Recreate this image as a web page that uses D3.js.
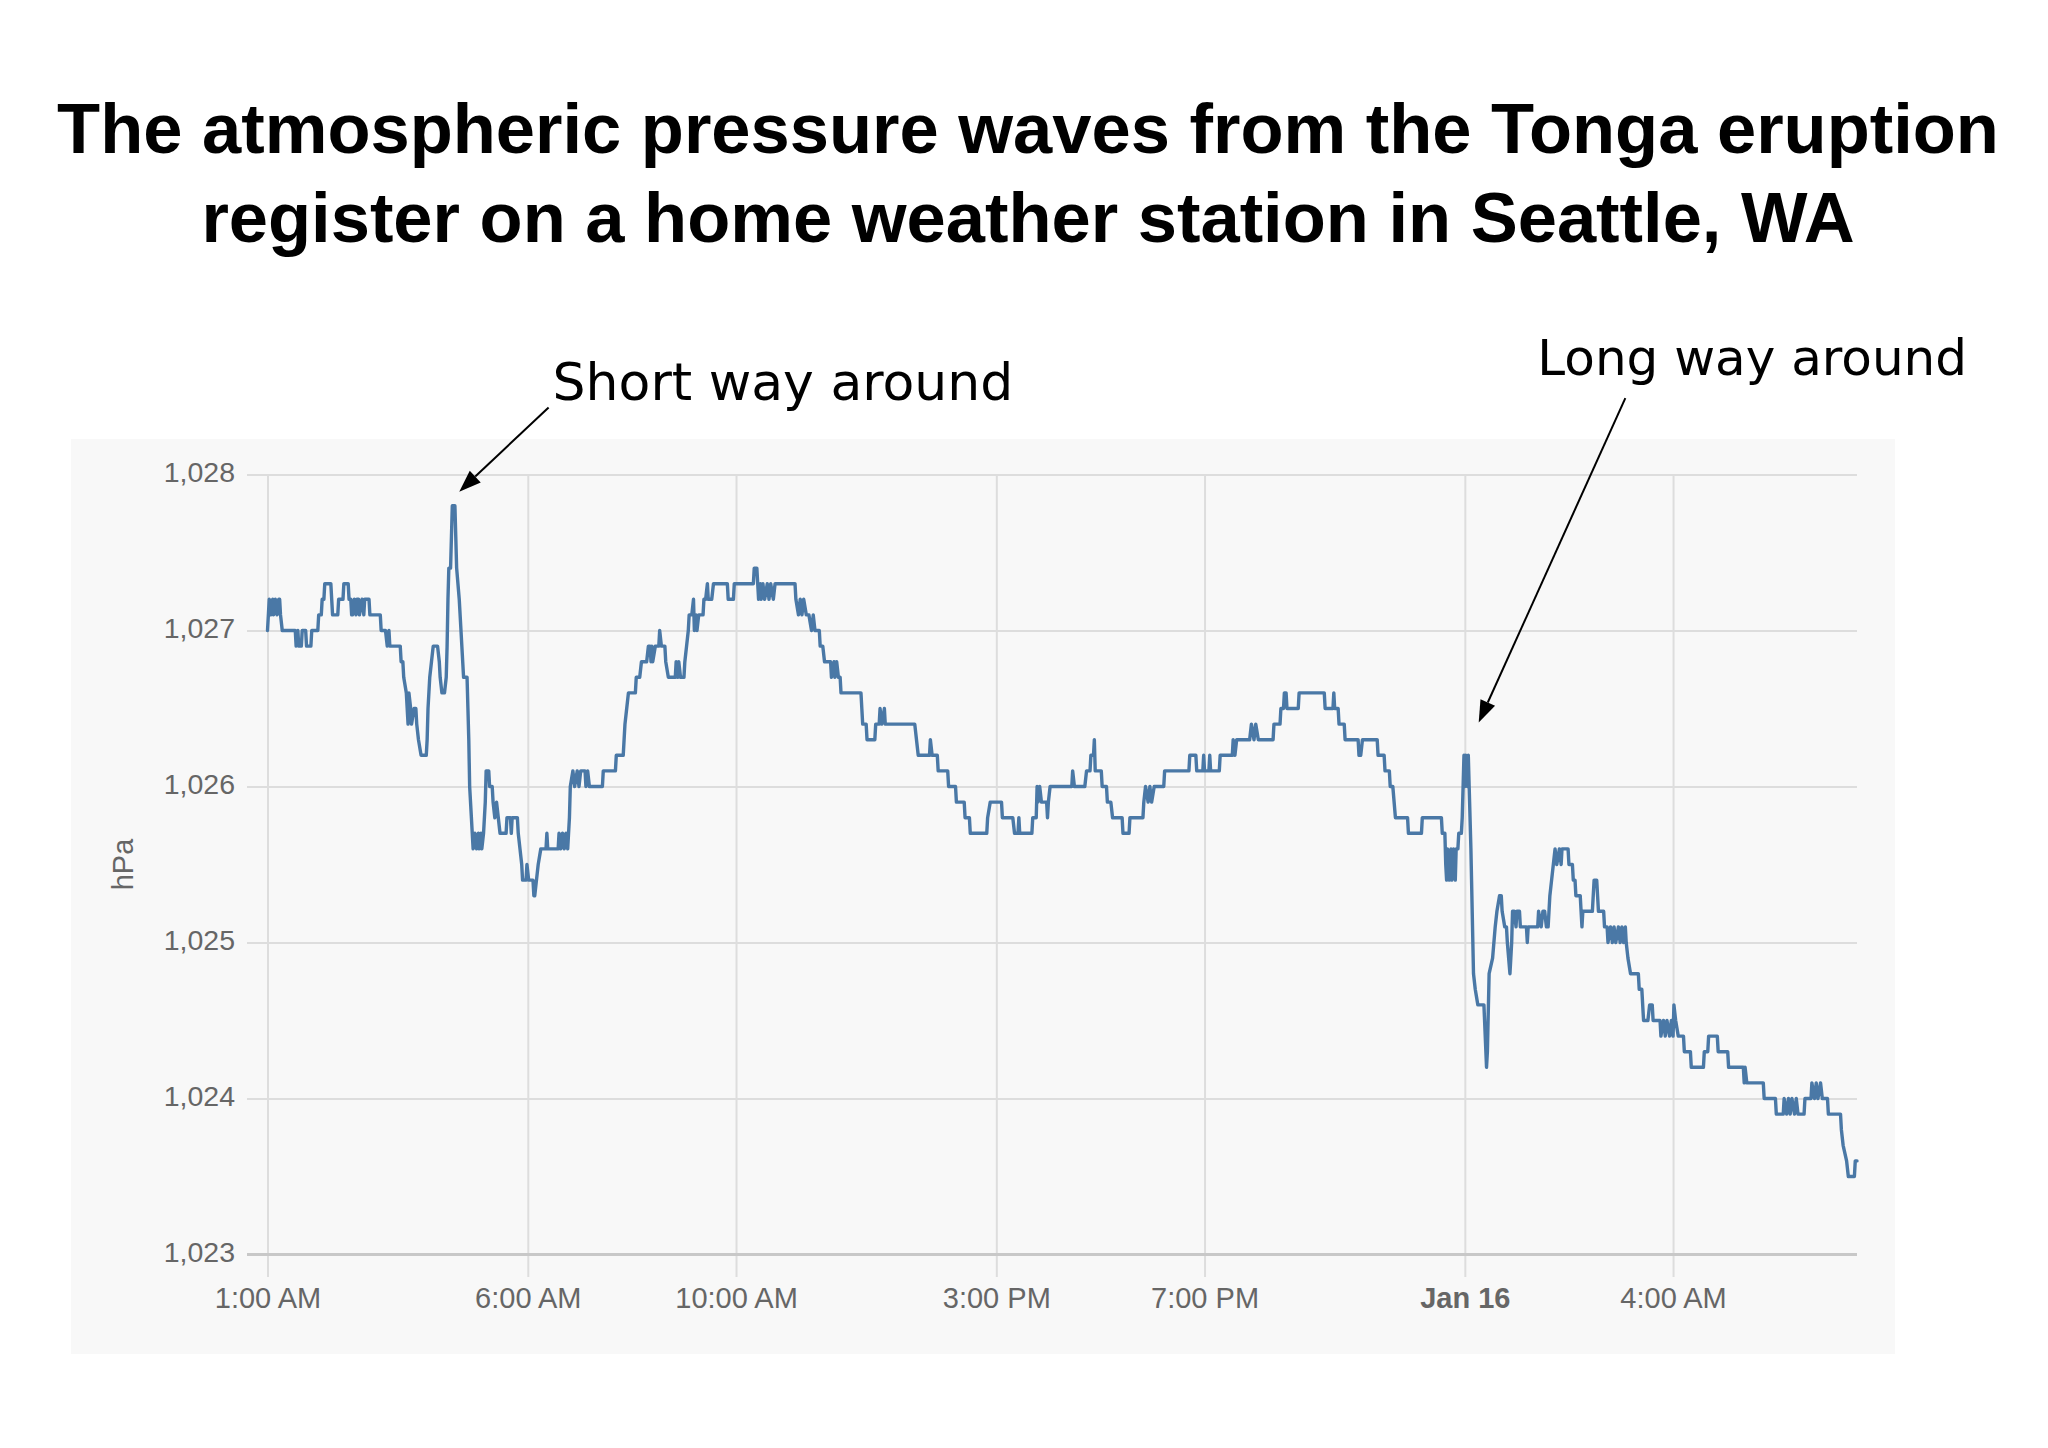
<!DOCTYPE html>
<html>
<head>
<meta charset="utf-8">
<script src="https://cdn.jsdelivr.net/npm/d3@7"></script>
<style>
  html, body { margin: 0; padding: 0; background: #fff; }
  svg { display: block; }
</style>
</head>
<body>
<svg id="chart" width="2048" height="1448"></svg>
<script>
// readings: [minutes after 1:00 AM Jan 15, pressure in hPa]
var earlyMorning = [
  [0,1027.0],[2,1027.2],[4,1027.1],[6,1027.2],[7,1027.1],[9,1027.2],[11,1027.1],[13,1027.2],[14,1027.2],
  [15,1027.1],[17,1027.0],[32,1027.0],[33,1026.9],[35,1027.0],[36,1026.9],[39,1026.9],[40,1027.0],
  [44,1027.0],[45,1026.9],[50,1026.9],[51,1027.0],[58,1027.0],[59,1027.1],[62,1027.1],[63,1027.2],
  [65,1027.2],[66,1027.3],[73,1027.3],[74,1027.2],[75,1027.1],[81,1027.1],[82,1027.2],[87,1027.2],
  [88,1027.3],[93,1027.3],[94,1027.2],[96,1027.2],[97,1027.1],[98,1027.1],[100,1027.2],[102,1027.1],
  [103,1027.2],[105,1027.2],[106,1027.1],[109,1027.2],[111,1027.1],[112,1027.2],[117,1027.2],
  [118,1027.1],[130,1027.1],[131,1027.0],[136,1027.0],[138,1026.9],[140,1027.0],[141,1026.9],
  [153,1026.9],[154,1026.8],[156,1026.8],[157,1026.7],[160,1026.6],[162,1026.4],[163,1026.6],
  [165,1026.5],[166,1026.4],[169,1026.5],[171,1026.5],[172,1026.4],[174,1026.3],[177,1026.2],
  [183,1026.2],[184,1026.3],[185,1026.5],[187,1026.7],[189,1026.8],[191,1026.9],[196,1026.9],
  [198,1026.8],[199,1026.7],[201,1026.6],[204,1026.6],[206,1026.7],[207,1026.9],[208,1027.2],
  [209,1027.4],[211,1027.4],[213,1027.8],[216,1027.8],[217,1027.6],[218,1027.4],[221,1027.2],
  [223,1027.0],[226,1026.7],[230,1026.7],[231,1026.5],[232,1026.3],[233,1026.0],[235,1025.8],
  [236,1025.7],[237,1025.6],[239,1025.7],[241,1025.6],[243,1025.7],[244,1025.6],[246,1025.7],
  [247,1025.6],[249,1025.7],[251,1025.9],[252,1026.1],[255,1026.1],[256,1026.0],[259,1026.0],
  [260,1025.9],[262,1025.8],[264,1025.9],[266,1025.8],[268,1025.7],[275,1025.7],[276,1025.8],
  [280,1025.8],[281,1025.7],[282,1025.8],[288,1025.8],[289,1025.7],[291,1025.6],[293,1025.5],
  [294,1025.4],[298,1025.4],[299,1025.5],[301,1025.4],[306,1025.4],[307,1025.3],[308,1025.3],
  [310,1025.4],[312,1025.5],[315,1025.6]
];

var lateMorning = [
  [321,1025.6],[322,1025.7],[323,1025.6],[335,1025.6],[336,1025.7],[338,1025.6],[340,1025.7],
  [342,1025.6],[344,1025.7],[346,1025.6],[348,1025.8],[349,1026.0],[352,1026.1],[354,1026.0],
  [357,1026.1],[359,1026.0],[361,1026.1],[366,1026.1],[367,1026.0],[369,1026.1],[371,1026.0],
  [386,1026.0],[387,1026.1],[401,1026.1],[402,1026.2],[410,1026.2],[411,1026.3],[412,1026.4],
  [414,1026.5],[416,1026.6],[424,1026.6],[425,1026.7],[429,1026.7],[431,1026.8],[437,1026.8],
  [439,1026.9],[441,1026.9],[442,1026.8],[443,1026.9],[444,1026.8],[447,1026.9],[451,1026.9],
  [452,1027.0],[454,1026.9],[458,1026.9],[459,1026.8],[462,1026.7],[470,1026.7],[471,1026.8],
  [473,1026.7],[474,1026.8],[476,1026.7],[480,1026.7],[481,1026.8],[483,1026.9],[485,1027.0],
  [486,1027.1],[489,1027.1],[491,1027.2],[492,1027.0],[494,1027.1],[495,1027.0],[497,1027.1],
  [502,1027.1],[503,1027.2],[505,1027.2],[507,1027.3],[508,1027.2],[512,1027.2],[514,1027.3],
  [530,1027.3],[531,1027.2],[537,1027.2],[538,1027.3],[560,1027.3],[561,1027.4],[564,1027.4],
  [566,1027.2],[568,1027.3],[569,1027.2],[571,1027.3],[573,1027.2],[576,1027.3],[578,1027.2],
  [580,1027.3],[583,1027.2],[585,1027.3],[608,1027.3],[609,1027.2],[612,1027.1],[614,1027.2],
  [616,1027.1],[618,1027.2],[621,1027.1],[624,1027.1],[627,1027.0],[629,1027.1],[631,1027.0],
  [636,1027.0],[637,1026.9],[640,1026.9],[642,1026.8],[649,1026.8],[650,1026.7],[653,1026.8],
  [654,1026.7],[656,1026.8],[658,1026.7],[660,1026.7],[661,1026.6],[684,1026.6],[685,1026.5],
  [686,1026.4],[690,1026.4],[691,1026.3],[700,1026.3],[701,1026.4],[705,1026.4],[706,1026.5],
  [708,1026.4],[711,1026.5],[712,1026.4],[746,1026.4],[748,1026.3],[750,1026.2],[763,1026.2],
  [764,1026.3],[766,1026.2],[772,1026.2],[773,1026.1],[784,1026.1],[785,1026.0],[793,1026.0],
  [794,1025.9],[803,1025.9],[804,1025.8],[809,1025.8],[810,1025.7],[829,1025.7],[830,1025.8],
  [833,1025.9],[846,1025.9]
];

var afternoon = [
  [847,1025.8],[859,1025.8],[861,1025.7],[865,1025.7],[866,1025.8],[867,1025.7],[881,1025.7],
  [882,1025.8],[886,1025.8],[887,1026.0],[888,1025.9],[890,1026.0],[892,1025.9],[898,1025.9],
  [899,1025.8],[900,1025.9],[902,1026.0],[927,1026.0],[928,1026.1],[930,1026.0],[942,1026.0],
  [944,1026.1],[948,1026.1],[949,1026.2],[952,1026.2],[953,1026.3],[954,1026.1],[961,1026.1],
  [962,1026.0],[967,1026.0],[968,1025.9],[972,1025.9],[974,1025.8],[985,1025.8],[986,1025.7],
  [993,1025.7],[994,1025.8],[1009,1025.8],[1010,1025.9],[1012,1026.0],[1015,1025.9],[1017,1026.0],
  [1019,1025.9],[1022,1026.0],[1033,1026.0],[1034,1026.1],[1062,1026.1],[1063,1026.2],[1070,1026.2],
  [1071,1026.1],[1078,1026.1],[1079,1026.2],[1080,1026.1],[1085,1026.1],[1086,1026.2],[1087,1026.1],
  [1097,1026.1],[1098,1026.2],[1112,1026.2],[1113,1026.3],[1115,1026.2],[1117,1026.3],[1132,1026.3],
  [1134,1026.4],[1137,1026.3],[1139,1026.4],[1142,1026.3],[1159,1026.3],[1160,1026.4],[1167,1026.4],
  [1168,1026.5],[1171,1026.5],[1172,1026.6],[1174,1026.6],[1175,1026.5],[1188,1026.5],[1189,1026.6],
  [1218,1026.6],[1219,1026.5],[1228,1026.5],[1229,1026.6],[1230,1026.5],[1234,1026.5],[1235,1026.4],
  [1241,1026.4],[1242,1026.3],[1257,1026.3],[1258,1026.2],[1260,1026.2],[1262,1026.3],[1279,1026.3],
  [1280,1026.2],[1287,1026.2],[1288,1026.1],[1293,1026.1],[1294,1026.0],[1297,1026.0],[1300,1025.8],
  [1314,1025.8],[1315,1025.7],[1330,1025.7],[1331,1025.8],[1353,1025.8],[1354,1025.7],[1357,1025.7],
  [1358,1025.5],[1359,1025.4],[1360,1025.6],[1362,1025.4],[1364,1025.6],[1365,1025.4],[1367,1025.6],
  [1369,1025.4],[1370,1025.6],[1372,1025.6],[1373,1025.7],[1376,1025.7],[1377,1025.8]
];

var nextDay = [
  [1378,1026.0],[1379,1026.2],[1380,1026.0],[1381,1026.2],[1383,1026.0],[1384,1026.2],[1385,1026.0],
  [1387,1025.6],[1390,1024.8],[1392,1024.7],[1395,1024.6],[1402,1024.6],[1405,1024.2],[1406,1024.3],
  [1408,1024.8],[1412,1024.9],[1415,1025.1],[1417,1025.2],[1420,1025.3],[1422,1025.3],[1423,1025.2],
  [1426,1025.1],[1428,1025.1],[1429,1025.0],[1432,1024.8],[1433,1024.9],[1434,1025.0],[1435,1025.2],
  [1437,1025.2],[1439,1025.1],[1440,1025.2],[1443,1025.2],[1444,1025.1],[1451,1025.1],[1452,1025.0],
  [1453,1025.1],[1464,1025.1],[1465,1025.2],[1468,1025.1],[1470,1025.2],[1472,1025.2],[1474,1025.1],
  [1476,1025.1],[1477,1025.2],[1478,1025.3],[1480,1025.4],[1482,1025.5],[1484,1025.6],[1486,1025.5],
  [1489,1025.6],[1491,1025.5],[1492,1025.6],[1499,1025.6],[1500,1025.5],[1504,1025.5],[1505,1025.4],
  [1507,1025.4],[1508,1025.3],[1513,1025.3],[1514,1025.2],[1515,1025.1],[1516,1025.2],[1527,1025.2],
  [1528,1025.3],[1529,1025.4],[1532,1025.4],[1533,1025.3],[1534,1025.2],[1540,1025.2],[1541,1025.1],
  [1544,1025.1],[1545,1025.0],[1548,1025.1],[1550,1025.0],[1552,1025.1],[1554,1025.0],[1557,1025.1],
  [1559,1025.0],[1561,1025.1],[1563,1025.0],[1565,1025.1],[1566,1025.0],[1568,1024.9],[1571,1024.8],
  [1580,1024.8],[1581,1024.7],[1584,1024.7],[1586,1024.5],[1591,1024.5],[1593,1024.6],[1596,1024.6],
  [1597,1024.5],[1605,1024.5],[1606,1024.4],[1609,1024.5],[1611,1024.4],[1613,1024.5],[1616,1024.4],
  [1618,1024.5],[1620,1024.4],[1621,1024.6],[1623,1024.5],[1626,1024.4],[1632,1024.4],[1633,1024.3],
  [1640,1024.3],[1641,1024.2],[1655,1024.2],[1656,1024.3],[1660,1024.3],[1661,1024.4],[1671,1024.4],
  [1672,1024.3],[1683,1024.3],[1684,1024.2],[1701,1024.2],[1702,1024.1],[1703,1024.2],[1705,1024.1],
  [1724,1024.1],[1725,1024.0],[1738,1024.0],[1739,1023.9],[1747,1023.9],[1748,1024.0],[1751,1023.9],
  [1753,1024.0],[1755,1023.9],[1757,1024.0],[1760,1023.9],[1762,1024.0],[1764,1023.9],[1771,1023.9],
  [1772,1024.0],[1779,1024.0],[1780,1024.1],[1783,1024.0],[1785,1024.1],[1787,1024.0],[1790,1024.1],
  [1792,1024.0],[1798,1024.0],[1799,1023.9],[1813,1023.9],[1814,1023.8],[1816,1023.7],[1820,1023.6],
  [1822,1023.5],[1829,1023.5],[1830,1023.6],[1832,1023.6]
];

var yTicks = [1023, 1024, 1025, 1026, 1027, 1028];
var tickHours = [0, 5, 9, 14, 18, 23, 27];   // hours after 1:00 AM
var tickLabels = ["1:00 AM", "6:00 AM", "10:00 AM", "3:00 PM", "7:00 PM", "Jan 16", "4:00 AM"];

var titleLines = [
  "The atmospheric pressure waves from the Tonga eruption",
  "register on a home weather station in Seattle, WA"
];

// arrows: tail and tip given in chart terms (minutes, hPa)
var notes = [
  {text: "Short way around", tail: [324, 1028.43], tip: [221, 1027.89], size: 52, dx: 4, dy: -7},
  {text: "Long way around", tail: [1565, 1028.49], tip: [1396, 1026.41], size: 50, dx: -88, dy: -23}
];

var start = new Date(2022, 0, 15, 1, 0);
function toDate(m) { return new Date(start.getTime() + m * 60000); }

var readings = earlyMorning.concat(lateMorning, afternoon, nextDay).map(function(d) {
  return {t: toDate(d[0]), v: d[1]};
});

var svg = d3.select("#chart");

var x = d3.scaleTime()
  .domain([start, readings[readings.length - 1].t])
  .range([267.5, 1857]);
var y = d3.scaleLinear()
  .domain([1023, 1028])
  .range([1254.5, 474.5]);

// panel
svg.append("rect")
  .attr("x", 71).attr("y", 439)
  .attr("width", 1824).attr("height", 915)
  .attr("fill", "#f8f8f8");

// title
svg.append("g")
  .selectAll("text")
  .data(titleLines)
  .enter()
  .append("text")
  .attr("x", 1028)
  .attr("y", function(d, i) { return 153 + i * 89; })
  .attr("text-anchor", "middle")
  .attr("font-family", "Liberation Sans, Arial, sans-serif")
  .attr("font-weight", "bold")
  .attr("font-size", 70.5)
  .attr("fill", "#000")
  .text(function(d) { return d; });

// y grid + labels
var yAxis = d3.axisLeft(y)
  .tickValues(yTicks)
  .tickSize(-(1857 - 247))
  .tickPadding(12)
  .tickFormat(d3.format(","));

var gy = svg.append("g")
  .attr("transform", "translate(247,0)")
  .call(yAxis);
gy.select(".domain").remove();
gy.selectAll(".tick line")
  .attr("stroke", "#dddddd")
  .attr("stroke-width", 2);
gy.selectAll(".tick text")
  .attr("font-family", "Liberation Sans, Arial, sans-serif")
  .attr("font-size", 28.5)
  .attr("fill", "#666")
  .attr("dy", "0.24em");

// x grid + labels
var xTickDates = tickHours.map(function(h) { return toDate(h * 60); });
var xAxis = d3.axisBottom(x)
  .tickValues(xTickDates)
  .tickSize(-(1277 - 474.5))
  .tickPadding(0)
  .tickFormat(function(d, i) { return tickLabels[i]; });

var gx = svg.append("g")
  .attr("transform", "translate(0,1277)")
  .call(xAxis);
gx.select(".domain").remove();
gx.selectAll(".tick line")
  .attr("stroke", "#dddddd")
  .attr("stroke-width", 2);
gx.selectAll(".tick text")
  .attr("y", 31)
  .attr("dy", 0)
  .attr("font-family", "Liberation Sans, Arial, sans-serif")
  .attr("font-size", 29)
  .attr("fill", "#666")
  .attr("font-weight", function(d, i) { return tickLabels[i] == "Jan 16" ? "bold" : "normal"; });

// x axis line
svg.append("line")
  .attr("x1", 247).attr("x2", 1857)
  .attr("y1", y(1023)).attr("y2", y(1023))
  .attr("stroke", "#c8c8c8")
  .attr("stroke-width", 3);

// axis title
svg.append("text")
  .attr("transform", "translate(133," + y(1025.5) + ") rotate(-90)")
  .attr("text-anchor", "middle")
  .attr("font-family", "Liberation Sans, Arial, sans-serif")
  .attr("font-size", 29)
  .attr("fill", "#666")
  .text("hPa");

// the series
var line = d3.line()
  .x(function(d) { return x(d.t); })
  .y(function(d) { return y(d.v); });

svg.append("path")
  .datum(readings)
  .attr("d", line)
  .attr("fill", "none")
  .attr("stroke", "#4a78a6")
  .attr("stroke-width", 3.4)
  .attr("stroke-linejoin", "round")
  .attr("stroke-linecap", "round");

// annotations
var ann = svg.append("g").attr("id", "notes");
notes.forEach(function(n) {
  var x0 = x(toDate(n.tail[0])), y0 = y(n.tail[1]);
  var x1 = x(toDate(n.tip[0])), y1 = y(n.tip[1]);
  var a = Math.atan2(y1 - y0, x1 - x0);
  var len = 22, half = 8;
  var bx = x1 - len * Math.cos(a), by = y1 - len * Math.sin(a);

  ann.append("line")
    .attr("x1", x0).attr("y1", y0)
    .attr("x2", bx).attr("y2", by)
    .attr("stroke", "#000")
    .attr("stroke-width", 2);

  ann.append("path")
    .attr("d", "M" + x1 + "," + y1 +
      "L" + (bx + half * Math.sin(a)) + "," + (by - half * Math.cos(a)) +
      "L" + (bx - half * Math.sin(a)) + "," + (by + half * Math.cos(a)) + "Z")
    .attr("fill", "#000");

  ann.append("text")
    .attr("x", x0 + n.dx)
    .attr("y", y0 + n.dy)
    .attr("font-family", "DejaVu Sans, sans-serif")
    .attr("font-size", n.size)
    .attr("fill", "#000")
    .text(n.text);
});
</script>
</body>
</html>
